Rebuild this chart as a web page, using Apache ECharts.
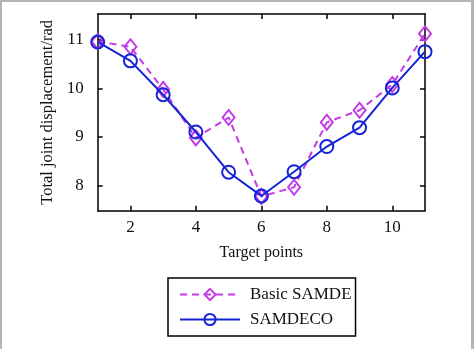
<!DOCTYPE html>
<html>
<head>
<meta charset="utf-8">
<script src="https://cdn.jsdelivr.net/npm/echarts@6/dist/echarts.min.js"></script>
<style>
html,body{margin:0;padding:0;background:#fff;}
#c{width:474px;height:349px;}
</style>
</head>
<body>
<div id="c"></div>
<script>
const targetPoints = [1,2,3,4,5,6,7,8,9,10,11];
const basicSAMDE = [10.97,10.86,9.98,8.98,9.40,7.77,7.96,9.30,9.55,10.08,11.13];
const samdeco = [10.96,10.57,9.87,9.10,8.27,7.78,8.28,8.80,9.19,10.01,10.76];
const xTicks = [2,4,6,8,10];
const yTicks = [8,9,10,11];

const magenta = '#c43ae6';
const blue = '#1624d6';
const font = 'Liberation Serif, Times New Roman, serif';

const chart = echarts.init(document.getElementById('c'), null, {renderer:'canvas'});
const axisLineStyle = {color:'#000', width:1.5};
chart.setOption({
  animation:false,
  backgroundColor:'#fff',
  grid:{left:97.7, top:14, right:49, bottom:138.3, containLabel:false},
  xAxis:[{
    type:'value', min:1, max:11,
    name:'Target points', nameLocation:'middle', nameGap:34,
    nameTextStyle:{fontFamily:font, fontSize:16, color:'#111'},
    axisLine:{show:true, onZero:false, lineStyle:axisLineStyle},
    axisTick:{show:true, inside:true, length:5, customValues:xTicks, lineStyle:axisLineStyle},
    axisLabel:{customValues:xTicks, margin:8, fontFamily:font, fontSize:17, color:'#111'},
    splitLine:{show:false}
  },{
    type:'value', min:1, max:11, position:'top',
    axisLine:{show:true, onZero:false, lineStyle:axisLineStyle},
    axisTick:{show:true, inside:true, length:5, customValues:xTicks, lineStyle:axisLineStyle},
    axisLabel:{show:false}, splitLine:{show:false}
  }],
  yAxis:[{
    type:'value', min:7.475, max:11.537,
    name:'Total joint displacement/rad', nameLocation:'middle', nameGap:35,
    nameTextStyle:{fontFamily:font, fontSize:16.5, color:'#111'},
    axisLine:{show:true, onZero:false, lineStyle:axisLineStyle},
    axisTick:{show:true, inside:true, length:5, customValues:yTicks, lineStyle:axisLineStyle},
    axisLabel:{customValues:yTicks, margin:14, fontFamily:font, fontSize:17, color:'#111'},
    splitLine:{show:false}
  },{
    type:'value', min:7.475, max:11.537, position:'right',
    axisLine:{show:true, onZero:false, lineStyle:axisLineStyle},
    axisTick:{show:true, inside:true, length:5, customValues:yTicks, lineStyle:axisLineStyle},
    axisLabel:{show:false}, splitLine:{show:false}
  }],
  legend:{
    orient:'vertical', left:168, top:278,
    backgroundColor:'#fff',
    borderColor:'#000', borderWidth:1.5, borderRadius:0,
    padding:[8,4,8,11],
    itemWidth:60, itemHeight:14, itemGap:8,
    textStyle:{fontFamily:font, fontSize:17, color:'#111', padding:[0,0,0,5]},
    data:['Basic SAMDE','SAMDECO']
  },
  series:[{
    name:'Basic SAMDE', type:'line',
    data:targetPoints.map((x,i)=>[x,basicSAMDE[i]]),
    color:magenta,
    symbol:'diamond', symbolSize:[12,15],
    lineStyle:{color:magenta, width:2, type:[7,5]},
    itemStyle:{color:'rgba(255,255,255,0)', borderColor:magenta, borderWidth:2},
    z:2
  },{
    name:'SAMDECO', type:'line',
    data:targetPoints.map((x,i)=>[x,samdeco[i]]),
    color:blue,
    symbol:'circle', symbolSize:13,
    lineStyle:{color:blue, width:2},
    itemStyle:{color:'rgba(255,255,255,0)', borderColor:blue, borderWidth:2},
    z:3
  }],
  graphic:[
    {type:'rect', shape:{x:0,y:0,width:2,height:349}, style:{fill:'#b4b4b4'}, silent:true},
    {type:'rect', shape:{x:0,y:0,width:474,height:2}, style:{fill:'#b4b4b4'}, silent:true},
    {type:'rect', shape:{x:471,y:0,width:3,height:349}, style:{fill:'#b4b4b4'}, silent:true}
  ]
});
</script>
</body>
</html>
